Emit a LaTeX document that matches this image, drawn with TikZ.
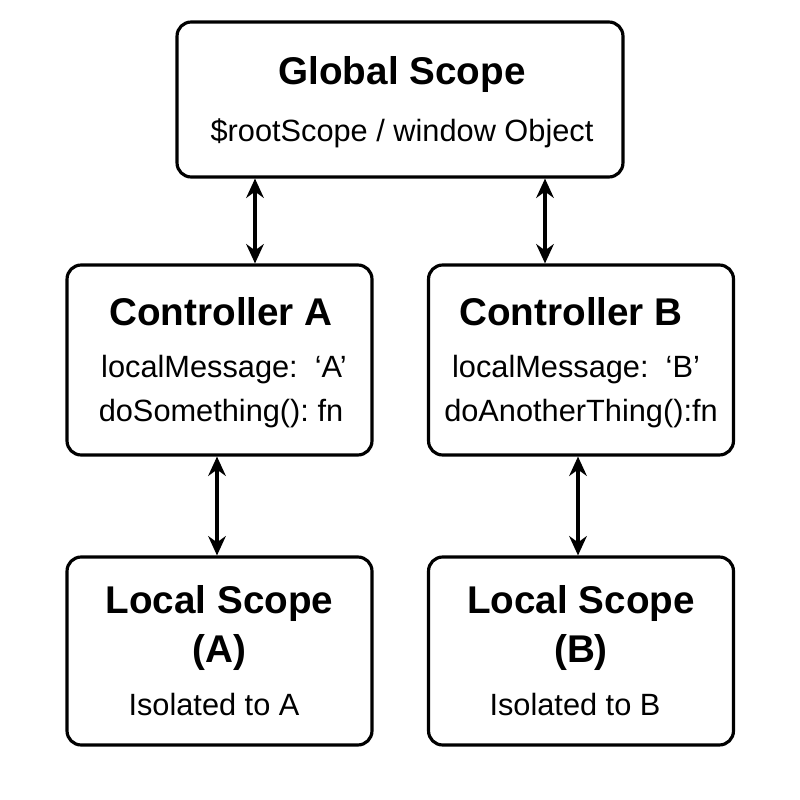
\documentclass[tikz,border=0pt]{standalone}
\usepackage{fontspec}
\setmainfont{Liberation Sans}
\usetikzlibrary{arrows.meta}
\tikzset{
    box/.style={draw, line width=1.8pt, rounded corners=8pt, inner sep=0pt}, % frame of each scope
    title/.style={font=\fontsize{22}{24}\selectfont\bfseries},
    line/.style={font=\fontsize{17.5}{20}\selectfont},
    link/.style={<->, line width=2pt, >={Stealth[length=11pt,width=10pt]}},
}
\begin{document}
\begin{tikzpicture}[x=0.02cm, y=-0.02cm]
    \useasboundingbox (0,0) rectangle (800,800);
    % boxes
    \node[box, minimum width=8.92cm, minimum height=3.1cm] (gs) at (400,99.5) {};
    \node[box, minimum width=6.1cm, minimum height=3.8cm] (ca) at (219.5,360) {};
    \node[box, minimum width=6.1cm, minimum height=3.8cm] (cb) at (581,360) {};
    \node[box, minimum width=6.1cm, minimum height=3.76cm] (la) at (219.5,651) {};
    \node[box, minimum width=6.1cm, minimum height=3.76cm] (lb) at (581,651) {};
    % texts
    \node[title] (gst) at (402,75) {Global Scope};
    \node[line] (gss) at (402,133) {\$rootScope / window Object};
    \node[title] (cat) at (221,312) {Controller A};
    \node[line] (ca1) at (224,370) {localMessage:\ \ `A'};
    \node[line] (ca2) at (221,414) {doSomething():\ fn};
    \node[title] (cbt) at (571,312) {Controller B};
    \node[line] (cb1) at (576,370) {localMessage:\ \ `B'};
    \node[line] (cb2) at (581,414) {doAnotherThing():fn};
    \node[title] (lat) at (219.5,603) {Local Scope};
    \node[title] (lat2) at (219.5,652) {(A)};
    \node[line] (las) at (214,705) {Isolated to A};
    \node[title] (lbt) at (581,603) {Local Scope};
    \node[title] (lbt2) at (581,652) {(B)};
    \node[line] (lbs) at (575,705) {Isolated to B};
    % connectors
    \coordinate (xa) at (255,0);
    \coordinate (xb) at (545,0);
    \coordinate (xc) at (217,0);
    \coordinate (xd) at (578,0);
    \draw[link] (xa |- gs.south) -- (xa |- ca.north);
    \draw[link] (xb |- gs.south) -- (xb |- cb.north);
    \draw[link] (xc |- ca.south) -- (xc |- la.north);
    \draw[link] (xd |- cb.south) -- (xd |- lb.north);
\end{tikzpicture}
\end{document}
